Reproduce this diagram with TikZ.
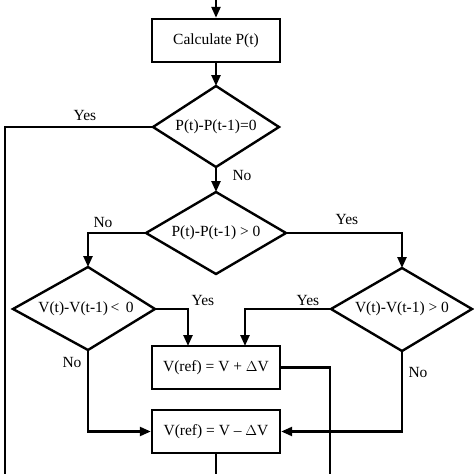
\documentclass[tikz,border=0pt]{standalone}
\usepackage{fontspec}
\setmainfont{Liberation Serif}
\usetikzlibrary{arrows.meta,shapes.geometric}
\begin{document}
\begin{tikzpicture}[x=1pt,y=-1pt,
  every node/.style={font=\fontsize{15.5}{17}\selectfont},
  boxnode/.style={draw,line width=2.4pt,minimum width=128pt,minimum height=43pt,inner sep=0pt},
  decnode/.style={draw,line width=2.4pt,line join=miter},
  conn/.style={line width=2.4pt},
  arr/.style={conn,-{Triangle[length=11pt,width=9pt]}},
  lbl/.style={inner sep=0pt}]
\useasboundingbox (0,0) rectangle (474,474);
\coordinate (top) at (216,0);
\node[boxnode] (calc) at (216,40.5) {Calculate P(t)};
\draw[decnode] (216,86) -- (279,127) -- (216,167) -- (153,127) -- cycle;
\node[lbl] (d1) at (216,127) {P(t)-P(t-1)=0};
\coordinate (d1t) at (216,86); \coordinate (d1b) at (216,167); \coordinate (d1l) at (153,127);
\draw[decnode] (216,192) -- (286,233) -- (216,274) -- (146,233) -- cycle;
\node[lbl] (d2) at (216,233) {P(t)-P(t-1) > 0};
\coordinate (d2t) at (216,192); \coordinate (d2l) at (146,233); \coordinate (d2r) at (286,233);
\draw[decnode] (88,267) -- (155,309) -- (88,350) -- (13,309) -- cycle;
\node[lbl] (d3) at (86,309) {V(t)-V(t-1)\,<\,\ 0};
\coordinate (d3t) at (88,267); \coordinate (d3r) at (155,309); \coordinate (d3b) at (88,350);
\draw[decnode] (402,268) -- (472,309) -- (402,351) -- (331,309) -- cycle;
\node[lbl] (d4) at (402,309) {V(t)-V(t-1) > 0};
\coordinate (d4t) at (402,268); \coordinate (d4l) at (331,309); \coordinate (d4b) at (402,351);
\node[boxnode] (vp) at (216,367.5) {V(ref) = V + $\Delta$V};
\node[boxnode] (vm) at (216,431.5) {V(ref) = V -- $\Delta$V};
\coordinate (leftend) at (5,474);
\coordinate (vpend) at (330,474);
\coordinate (vmend) at (216,474);
\draw[arr] (top) -- (calc.north);
\draw[arr] (calc.south) -- (d1t);
\draw[conn] (d1l) -| (leftend);
\draw[arr] (d1b) -- (d2t);
\draw[arr] (d2l) -| (d3t);
\draw[arr] (d2r) -| (d4t);
\draw[arr] (d3r) -| (188,346);
\draw[arr] (d4l) -| (245,346);
\draw[arr] (d3b) |- (vm.west);
\draw[arr] (d4b) |- (vm.east);
\draw[conn] (vp.east) -| (vpend);
\draw[conn] (vm.south) -- (vmend);
\node[lbl] (l1) at (85,115) {Yes};
\node[lbl] (l2) at (242,175) {No};
\node[lbl] (l3) at (103,222) {No};
\node[lbl] (l4) at (347,219) {Yes};
\node[lbl] (l5) at (203,300) {Yes};
\node[lbl] (l6) at (308,300) {Yes};
\node[lbl] (l7) at (72,362) {No};
\node[lbl] (l8) at (418,372) {No};
\end{tikzpicture}
\end{document}
